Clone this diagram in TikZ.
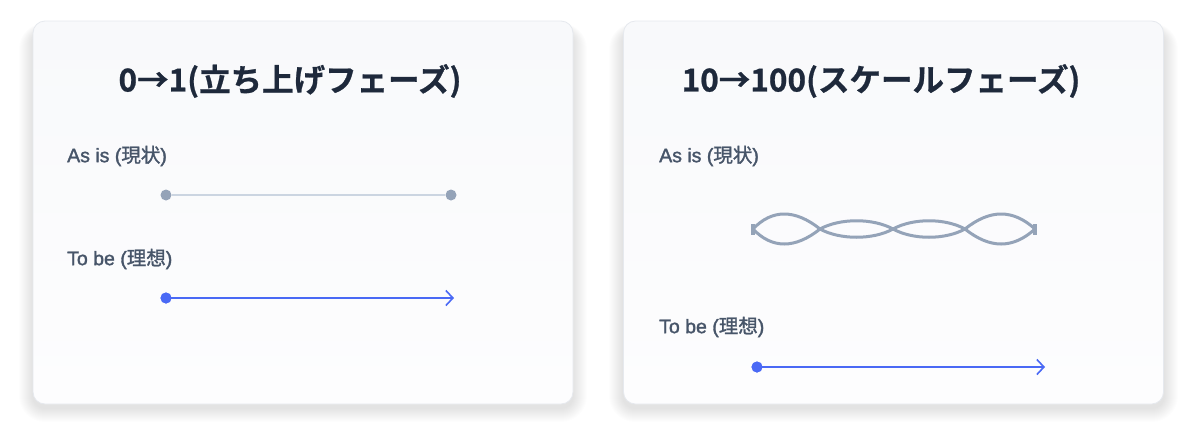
\documentclass[tikz,border=0pt]{standalone}
\usepackage{fontspec}
\setmainfont{Noto Sans CJK JP}
\newfontfamily\titlefont{Noto Sans CJK JP Bold}[FakeBold=0.8]
\newfontfamily\medcjk{Noto Sans CJK JP}[FakeBold=1.4]
\newfontfamily\medlat{Liberation Sans}[FakeBold=1.6]
\usetikzlibrary{arrows.meta}
\definecolor{titlec}{HTML}{1E293B}
\definecolor{labelc}{HTML}{475569}
\definecolor{dotgray}{HTML}{94A3B8}
\definecolor{linegray}{HTML}{CBD5E1}
\definecolor{bluec}{HTML}{4A69F5}
\definecolor{cardtop}{HTML}{F8F9FB}
\definecolor{cardbot}{HTML}{FDFDFE}
\definecolor{cardborder}{HTML}{E6E9EE}
\newcommand{\lbl}[2]{{\medlat #1(}{\medcjk #2}{\medlat )}}
\tikzset{
  card/.style={draw=cardborder, line width=0.8pt, top color=cardtop, bottom color=cardbot,
    rounded corners=12pt, minimum width=540pt, minimum height=383pt, inner sep=0pt},
  shadowlayer/.style={fill=black, opacity=0.009},
  titletext/.style={font=\fontsize{31.5}{36}\selectfont\titlefont, text=titlec, inner sep=0pt},
  labeltext/.style={font=\fontsize{19.5}{22}\selectfont, text=labelc, anchor=west, inner sep=0pt},
  graydot/.style={circle, fill=dotgray, minimum size=11pt, inner sep=0pt},
  bluedot/.style={circle, fill=bluec, minimum size=11pt, inner sep=0pt},
  grayline/.style={draw=linegray, line width=2.4pt},
  blueline/.style={draw=bluec, line width=2.4pt, -{Straight Barb[length=7pt,width=15pt,line width=1.6pt]}},
  rope/.style={draw=dotgray, line width=3pt},
  ropecap/.style={fill=dotgray, minimum width=4pt, minimum height=11pt, inner sep=0pt},
}
\begin{document}
\begin{tikzpicture}[x=1pt,y=-1pt]
\useasboundingbox (0,0) rectangle (1200,429);
\fill[white] (0,0) rectangle (1200,429);

% soft shadows
\foreach \i in {1,...,14}{
  \fill[shadowlayer, rounded corners=12+\i] (33-\i,30-0.5*\i) rectangle (573+\i,408+\i);
  \fill[shadowlayer, rounded corners=12+\i] (623-\i,30-0.5*\i) rectangle (1164+\i,408+\i);
}

% cards
\node[card] (cardL) at (303,212.5) {};
\node[card] (cardR) at (893.5,212.5) {};

% titles
\node[titletext] (titleL) at (290,81) {0→1(立ち上げフェーズ)};
\node[titletext] (titleR) at (881,81) {10→100(スケールフェーズ)};

% left card
\node[labeltext] (asisL) at (67,156) {\lbl{As is }{現状}};
\node[graydot] (gL1) at (166,195) {};
\node[graydot] (gL2) at (451,195) {};
\draw[grayline] (gL1) -- (gL2);

\node[labeltext] (tobeL) at (67,259) {\lbl{To be }{理想}};
\node[bluedot] (bL1) at (166,298) {};
\coordinate (bL2) at (454,298);
\draw[blueline] (bL1.center) -- (bL2);
\node[bluedot] at (166,298) {};

% right card
\node[labeltext] (asisR) at (659,156) {\lbl{As is }{現状}};
\node[ropecap] (capA) at (753,229) {};
\node[ropecap] (capB) at (1035,229) {};
\draw[rope] (capA.center) .. controls (772,209) and (795,209) .. (820,229)
  .. controls (840,240) and (873,240) .. (893,229)
  .. controls (913,218) and (945,218) .. (965,229)
  .. controls (990,249) and (1013,249) .. (capB.center);
\draw[rope] (capA.center) .. controls (772,249) and (795,249) .. (820,229)
  .. controls (840,218) and (873,218) .. (893,229)
  .. controls (913,240) and (945,240) .. (965,229)
  .. controls (990,209) and (1013,209) .. (capB.center);

\node[labeltext] (tobeR) at (659,327) {\lbl{To be }{理想}};
\node[bluedot] (bR1) at (757,367) {};
\coordinate (bR2) at (1045,367);
\draw[blueline] (bR1.center) -- (bR2);
\node[bluedot] at (757,367) {};
\end{tikzpicture}
\end{document}
